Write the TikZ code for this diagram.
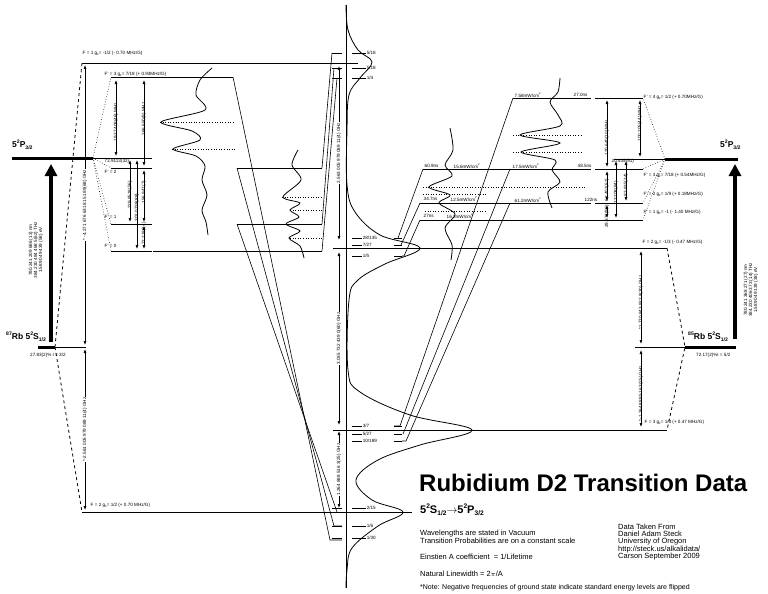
\documentclass[tikz,border=0pt]{standalone}
\usepackage{fontspec}
\setmainfont{Liberation Sans}
\usetikzlibrary{arrows.meta}
\newcommand\lsb[1]{\raisebox{-0.35ex}{\scalebox{0.6}{#1}}}
\newcommand\lsp[1]{\raisebox{0.9ex}{\scalebox{0.6}{#1}}}
\begin{document}
\begin{tikzpicture}[x=1pt,y=-1pt,font=\fontsize{4.6}{5}\selectfont,
  lvl/.style={line width=0.7pt},
  big/.style={line width=3pt},
  dim/.style={{Latex[length=4pt,width=3pt]}-{Latex[length=4pt,width=3pt]},line width=0.6pt},
  bigarrow/.style={line width=3.5pt,-{Triangle[length=12pt,width=12pt]}},
  dline/.style={dashed,line width=0.8pt},
  dotl/.style={dotted,line width=0.6pt},
  tr/.style={line width=0.6pt},
  spec/.style={line width=0.8pt},
  tick/.style={line width=0.6pt},
  lbl/.style={inner sep=0.5pt,anchor=west},
  rl/.style={inner sep=0.5pt,rotate=90,fill=white},
  ttl/.style={inner sep=0pt,anchor=west},
  stl/.style={ttl,font=\fontsize{8.5}{10}\selectfont\bfseries}]
\useasboundingbox (0,0) rectangle (768,594);
% ---------- central axis and spectrum ----------
\draw[line width=0.8pt] (346,5) -- (346,588);
\draw[spec] plot[smooth,tension=0.6] coordinates{(346,5) (348,30) (358,50) (372,62) (360,78) (349,95) (347,130) (347,185) (355,212) (380,235) (420,248) (385,264) (358,280) (349,300) (348,370) (360,392) (410,415) (472,430) (420,445) (378,460) (356,480) (372,500) (403,512) (378,526) (352,548) (347,570) (346,588)};
\foreach \y/\t in {53/5\slash18,68/5\slash18,78/1\slash4,508/2\slash15,526/1\slash6,538/1\slash30}{
  \draw[tick] (332,\y) -- (342,\y);
  \draw[tick] (352,\y) -- (366,\y) node[lbl] {\t};}
\foreach \y/\t in {238/28\slash135,245/7\slash27,256/1\slash5,426/3\slash7,434/5\slash27,441/10\slash189}{
  \draw[tick] (352,\y) -- (362,\y) node[lbl] {\t};
  \draw[tick] (394,\y) -- (402,\y);}
% ---------- 87Rb ground (left) ----------
\coordinate (g87) at (55,347);
\draw[big] (38,347) -- (55,347);
\draw[lvl] (55,347) -- (86,347);
\draw[lvl] (82,63) -- (358,63);
\draw[lvl] (82,512) -- (412,512);
\draw[dline] (g87) -- (82,63);
\draw[dline] (g87) -- (82,512);
\node[lbl] at (82,53) {F = 1 g\lsb{F}= -1/2 (- 0.70 MHz/G)};
\node[lbl] at (90,505) {F = 2 g\lsb{F}= 1/2 (+ 0.70 MHz/G)};
\draw[dim] (85,65) -- (85,345) node[rl,midway] {* -4.271 676 631 815 189(68) GHz};
\draw[dim] (85,349) -- (85,510) node[rl,midway] {*-2.561 005 979 089 11(4) GHz};
\node[stl] at (6,337) {\lsp{87}Rb 5\lsp{2}S\lsb{1/2}};
\node[ttl] at (30,355) {27.83(2)\% I = 3/2};
\draw[bigarrow] (51,342) -- (51,164);
\node[rl,fill=none,align=center] at (36,250) {780.241 209 686 (13) nm\\384.230 484 468 5(62) THz\\1.589 049 439 (58) eV};
% ---------- 87Rb excited (left) ----------
\draw[big] (12,158) -- (93,158);
\node[stl] at (12,145) {5\lsp{2}P\lsb{3/2}};
\draw[lvl] (93,158) -- (152,158);
\draw[lvl] (111,77) -- (233,77);
\draw[lvl] (111,168) -- (152,168); \draw[lvl] (237,168) -- (322,168);
\draw[lvl] (111,224) -- (152,224); \draw[lvl] (237,224) -- (322,224);
\draw[lvl] (111,251) -- (152,251); \draw[lvl] (153,251) -- (322,251);
\foreach \y in {77,168,224,251} \draw[dotl] (93,158) -- (111,\y);
\node[lbl] at (104,74) {F' = 3 g\lsb{F}= 7/18 (+ 0.93MHz/G)};
\node[lbl] at (104,161) {72.9113(32)};
\node[lbl] at (104,172) {F' = 2};
\node[lbl] at (104,217) {F' = 1};
\node[lbl] at (104,246) {F' = 0};
\draw[dim] (116,80) -- (116,156) node[rl,midway,xshift=-4pt,fill=none] {193.7408(46) MHz};
\draw[dim] (144,80) -- (144,166) node[rl,midway,xshift=4pt,fill=none] {266.650(9) MHz};
\draw[dim] (130,160) -- (130,222) node[rl,midway,xshift=-4pt,fill=none] {229.8518(56)};
\draw[dim] (137,160) -- (137,249) node[rl,midway,xshift=-3pt,fill=none] {302.0738(88)};
\draw[dim] (144,170) -- (144,222) node[rl,midway,xshift=4pt,fill=none] {156.947(7)};
\draw[dim] (144,226) -- (144,249) node[rl,midway,xshift=4pt,fill=none] {72.2180(4)};
\draw[dotl] (160,122) -- (235,122); \draw[dotl] (172,149) -- (235,149);
\draw[dotl] (282,197) -- (323,197); \draw[dotl] (290,210) -- (323,210); \draw[dotl] (290,238) -- (323,238);
\draw[spec] plot[smooth] coordinates{(212,68) (200,80) (196,95) (205,110) (161,122) (192,131) (200,140) (173,149) (196,156) (205,166) (202,180) (207,195) (202,210) (206,222) (208,235)};
\draw[spec] plot[smooth] coordinates{(298,150) (292,165) (301,180) (283,197) (300,203) (290,210) (299,217) (286,224) (300,231) (289,238) (300,246) (304,258)};
\draw[tr] (233,77) -- (330,540) -- (342,540);
\draw[tr] (237,168) -- (334,526) -- (342,526);
\draw[tr] (237,224) -- (337,512);
\draw[tr] (322,168) -- (332,53);
\draw[tr] (322,224) -- (334,68);
\draw[tr] (322,251) -- (337,78);
\draw[dim] (339,66) -- (339,240) node[rl,midway] {2.563 005 979 089 11(4) GHz};
\draw[dim] (339,252) -- (339,425) node[rl,midway] {3.035 732 439 0(60) GHz};
\draw[dim] (339,431) -- (339,508) node[rl,midway] {1.264 888 516 3(25) GHz};
% ---------- 85Rb ground (right) ----------
\coordinate (g85) at (685,347);
\draw[lvl] (333,248) -- (667,248);
\draw[lvl] (333,430) -- (667,430);
\draw[lvl] (635,347) -- (g85);
\draw[big] (g85) -- (736,347);
\draw[dline] (667,248) -- (g85) -- (667,430);
\node[lbl] at (642,242) {F = 2 g\lsb{F}= -1/3 (- 0.47 MHz/G)};
\node[lbl] at (644,422) {F = 3 g\lsb{F}= 1/3 (+ 0.47 MHz/G)};
\draw[dim] (641,251) -- (641,344) node[rl,midway,xshift=-5pt,fill=none] {*1.770 843 922 8(30) GHz};
\draw[dim] (641,350) -- (641,427) node[rl,midway,xshift=-5pt,fill=none] {*-1.264 888 516 3(25) GHz};
\node[stl] at (688,337) {\lsp{85}Rb 5\lsp{2}S\lsb{1/2}};
\node[ttl] at (696,355) {72.17(2)\%I = 5/2};
\draw[bigarrow] (735,339) -- (735,164);
\node[rl,fill=none,align=center] at (751,290) {780.241 368 271 (27) nm\\384.230 406 373 (14) THz\\1.589 049 139 (38) eV};
% ---------- 85Rb excited (right) ----------
\draw[big] (665,159) -- (738,159);
\node[stl] at (720,145) {5\lsp{2}P\lsb{3/2}};
\draw[lvl] (614,159) -- (665,159);
\draw[lvl] (513,98) -- (591,98); \draw[lvl] (595,98) -- (643,98);
\draw[lvl] (423,169) -- (591,169); \draw[lvl] (595,169) -- (643,169);
\draw[lvl] (420,203) -- (591,203); \draw[lvl] (595,203) -- (643,203);
\draw[lvl] (420,220) -- (643,220);
\foreach \y in {98,169,203,220} \draw[dotl] (665,159) -- (643,\y);
\node[lbl] at (643,97) {F' = 4 g\lsb{F}= 1/2 (+ 0.70MHz/G)};
\node[lbl] at (643,175) {F' = 3 g\lsb{F}= 7/18 (+ 0.54MHz/G)};
\node[lbl] at (643,194) {F' = 2 g\lsb{F}= 1/9 (+ 0.18MHz/G)};
\node[lbl] at (643,212) {F' = 1 g\lsb{F}= -1 (- 1.40 MHz/G)};
\node[lbl] at (611,161) {20.435(51)};
\draw[dim] (607,100) -- (607,167) node[rl,midway,xshift=-4pt,fill=none] {120.640(10) MHz};
\draw[dim] (640,100) -- (640,157) node[rl,midway,xshift=5pt,fill=none] {100.205(44) MHz};
\draw[dim] (607,171) -- (607,201) node[rl,midway,xshift=-4pt,fill=none] {63.401(61)};
\draw[dim] (616,161) -- (616,218) node[rl,midway,xshift=-4pt,fill=none] {113.208(84)};
\draw[dim] (626,161) -- (626,201) node[rl,midway,xshift=-4pt,fill=none] {83.835(34)};
\draw[dim] (607,205) -- (607,218) node[rl,midway,xshift=-5pt,fill=none] {29.372(90)};
\node[lbl] at (514,95) {7.58mW/cm\lsp{2}};
\node[lbl] at (573,95) {27.0ns};
\node[lbl] at (424,166) {60.9ns};
\node[lbl] at (453,166) {15.6mW/cm\lsp{2}};
\node[lbl] at (512,166) {17.5mW/cm\lsp{2}};
\node[lbl] at (577,166) {48.5ns};
\node[lbl] at (423,199) {34.7ns};
\node[lbl] at (450,199) {12.5mW/cm\lsp{2}};
\node[lbl] at (514,200) {61.2mW/cm\lsp{2}};
\node[lbl] at (584,200) {122ns};
\node[lbl] at (423,216) {27ns};
\node[lbl] at (446,216) {16.2mW/cm\lsp{2}};
\draw[dotl] (513,135) -- (582,135); \draw[dotl] (513,152) -- (582,152);
\draw[dotl] (423,187) -- (585,187); \draw[dotl] (423,194) -- (487,194); \draw[dotl] (425,211) -- (487,211);
\draw[spec] plot[smooth] coordinates{(450,128) (453,150) (445,165) (452,176) (429,187) (450,195) (439,203) (455,214) (445,228) (452,245) (451,260)};
\draw[spec] plot[smooth] coordinates{(560,78) (558,92) (550,102) (558,115) (560,126) (520,135) (560,143) (521,152) (555,160) (552,170) (560,182) (548,192) (552,208)};
\draw[tr] (513,98) -- (400,426) -- (394,426);
\draw[tr] (510,169) -- (403,434);
\draw[tr] (510,203) -- (406,441) -- (402,441);
\draw[tr] (423,169) -- (398,238);
\draw[tr] (420,203) -- (401,245);
\draw[tr] (420,220) -- (404,256) -- (402,256);
% ---------- title block ----------
\node[ttl,font=\fontsize{24}{26}\selectfont\bfseries] at (419,483) {Rubidium D2 Transition Data};
\node[ttl,font=\fontsize{11}{12}\selectfont\bfseries] at (420,510) {5\lsp{2}S\lsb{1/2}$\rightarrow$5\lsp{2}P\lsb{3/2}};
\node[ttl,font=\fontsize{7.5}{7.5}\selectfont,align=left] at (420,537) {Wavelengths are stated in Vacuum\\Transition Probabilities are on a constant scale};
\node[ttl,font=\fontsize{7.5}{8}\selectfont] at (420,557) {Einstien A coefficient \ = 1/Lifetime};
\node[ttl,font=\fontsize{7.5}{8}\selectfont] at (420,574) {Natural Linewidth = 2$\pi$/A};
\node[ttl,font=\fontsize{7}{8}\selectfont] at (420,588) {*Note: Negative frequencies of ground state indicate standard energy levels are flipped};
\node[ttl,font=\fontsize{7.5}{7.3}\selectfont,align=left] at (618,542) {Data Taken From\\Daniel Adam Steck\\University of Oregon\\http://steck.us/alkalidata/\\Carson September 2009};
\end{tikzpicture}
\end{document}
